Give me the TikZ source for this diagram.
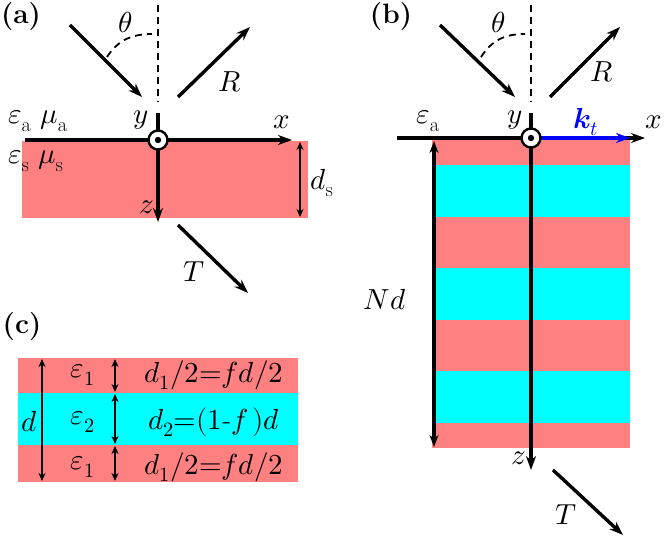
\documentclass[tikz,border=0pt]{standalone}
\usepackage{fontspec}
\usepackage{unicode-math}
\setmathfont{Latin Modern Math}
\usetikzlibrary{arrows.meta}
\definecolor{pk}{HTML}{FF8080}
\definecolor{cy}{HTML}{00FFFF}
\begin{document}
\begin{tikzpicture}[x=1pt,y=-1pt,
 ln/.style={line width=3.4pt,-{Stealth[length=14pt,width=10pt]}},
 ax/.style={line width=3.4pt},
 dsh/.style={line width=1.8pt,dash pattern=on 7pt off 5pt},
 dbl/.style={line width=2pt,{Stealth[length=8pt,width=7pt]}-{Stealth[length=8pt,width=7pt]}},
 lb/.style={font=\fontsize{29}{33}\selectfont,inner sep=0pt},
 pl/.style={font=\fontsize{28}{32}\selectfont\bfseries,inner sep=0pt}]
\useasboundingbox (0,0) rectangle (664,540);
% panel a
\fill[pk] (22,141) rectangle (308,218);
\coordinate (a0) at (158,140);
\draw[ln] (25,140) -- (292,140);
\draw[ax] (158,113) -- (a0);
\draw[ln] (a0) -- (158,222);
\draw[dsh] (158,5) -- (158,102);
\draw[ln] (70,25) -- (142,97);
\draw[ln] (178,97) -- (250,27);
\draw[ln] (178,225) -- (248,293);
\draw[dsh] (107,57) .. controls (118,40) and (132,34) .. (152,34);
\draw[dbl] (300,142) -- (300,217);
\node[circle,draw,line width=2.4pt,fill=white,minimum size=19pt,inner sep=0pt] (oa) at (a0) {};
\fill (a0) circle (3.2pt);
\node[pl] (la) at (21,17) {(a)};
\node[lb] at (126,22) {$\theta$};
\node[lb] at (230,82) {$R$};
\node[lb] at (194,272) {$T$};
\node[lb] at (141,120) {$y$};
\node[lb] at (282,122) {$x$};
\node[lb] at (147,207) {$z$};
\node[lb,anchor=west] at (8,121) {$\varepsilon_{\mathrm{a}}\ \mu_{\mathrm{a}}$};
\node[lb,anchor=west] at (8,161) {$\varepsilon_{\mathrm{s}}\ \mu_{\mathrm{s}}$};
\node[lb] at (322,183) {$d_{\mathrm{s}}$};
% panel b
\fill[pk] (432,140) rectangle (630,448);
\foreach \y in {165,268,371} \fill[cy] (432,\y) rectangle (630,\y+52);
\coordinate (b0) at (531,138);
\draw[ln] (397,138) -- (645,138);
\draw[ax] (531,113) -- (b0);
\draw[ln] (b0) -- (531,470);
\draw[blue,line width=3.4pt,-{Stealth[length=14pt,width=10pt]}] (540,138) -- (630,138);
\draw[dsh] (531,5) -- (531,102);
\draw[ln] (440,25) -- (515,97);
\draw[ln] (550,97) -- (620,27);
\draw[ln] (553,470) -- (623,535);
\draw[line width=3.4pt,{Stealth[length=12pt,width=9pt]}-{Stealth[length=12pt,width=9pt]}] (434,141) -- (434,447);
\draw[dsh] (481,57) .. controls (492,40) and (505,34) .. (525,34);
\node[circle,draw,line width=2.4pt,fill=white,minimum size=19pt,inner sep=0pt] (ob) at (b0) {};
\fill (b0) circle (3.2pt);
\node[pl] at (391,17) {(b)};
\node[lb] at (498,22) {$\theta$};
\node[lb] at (602,72) {$R$};
\node[lb] at (566,515) {$T$};
\node[lb] at (515,120) {$y$};
\node[lb] at (654,122) {$x$};
\node[lb] at (519,458) {$z$};
\node[lb] at (428,121) {$\varepsilon_{\mathrm{a}}$};
\node[lb,text=blue] at (586,122) {$\symbfit{k}_t$};
\node[lb] at (385,300) {$Nd$};
% panel c
\fill[pk] (18,358) rectangle (298,482);
\fill[cy] (18,393) rectangle (298,445);
\draw[dbl] (42,359) -- (42,481);
\draw[dbl] (115,359) -- (115,392);
\draw[dbl] (115,394) -- (115,444);
\draw[dbl] (115,446) -- (115,481);
\node[pl] at (22,327) {(c)};
\node[lb] at (29,422) {$d$};
\node[lb] at (83,375) {$\varepsilon_1$};
\node[lb] at (83,422) {$\varepsilon_2$};
\node[lb] at (83,467) {$\varepsilon_1$};
\node[lb] at (214,375) {$d_1/2{=}fd/2$};
\node[lb] at (214,422) {$d_2{=}(1\text{-}f\,)d$};
\node[lb] at (214,467) {$d_1/2{=}fd/2$};
\end{tikzpicture}
\end{document}
